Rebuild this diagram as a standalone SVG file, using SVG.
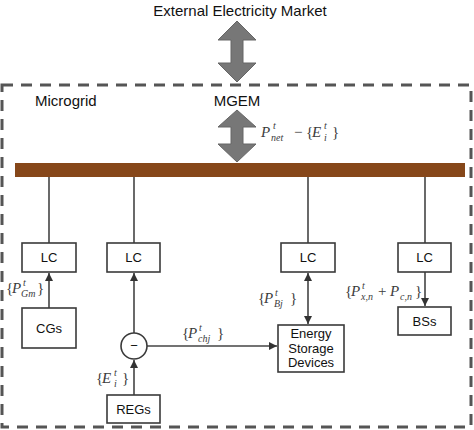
<svg xmlns="http://www.w3.org/2000/svg" width="474" height="430" viewBox="0 0 474 430">
<style>
.box{fill:#fff;stroke:#3a3a3a;stroke-width:1.6}
.ln{stroke:#444;stroke-width:1.6;fill:none}
.lbl{font-family:"Liberation Sans",Arial,sans-serif;font-size:13px;fill:#111;text-anchor:middle}
.big{font-family:"Liberation Sans",Arial,sans-serif;font-size:15px;fill:#111}
.m{font-family:"Liberation Serif","Times New Roman",serif;font-size:15px;fill:#3c3c3c}
.mi{font-style:italic}
.s{font-size:10px}
.bigarrow{fill:#777;stroke:#666;stroke-width:1}
</style>
<defs>
<marker id="ahs" viewBox="0 0 10 10" refX="10" refY="5" markerWidth="9" markerHeight="8" orient="auto-start-reverse" markerUnits="userSpaceOnUse">
<path d="M0,0 L10,5 L0,10 z" fill="#333"/>
</marker>
</defs>

<text class="big" x="240" y="16" text-anchor="middle">External Electricity Market</text>

<rect x="2" y="85" width="469" height="342" fill="none" stroke="#555" stroke-width="3" stroke-dasharray="11,8"/>
<text class="big" x="35" y="106">Microgrid</text>
<text class="big" x="237" y="106" text-anchor="middle">MGEM</text>

<g id="arrows-big">
<polygon class="bigarrow" points="237,21 256,40 243,40 243,63 256,63 237,82 218,63 231,63 231,40 218,40"/>
<polygon class="bigarrow" points="237,110 256,127 243,127 243,144 256,144 237,162 218,144 231,144 231,127 218,127"/>
</g>

<g id="bus"><rect x="15" y="163" width="450" height="14" fill="#86471a"/></g>

<g id="connectors">
<line class="ln" x1="49" y1="177" x2="49" y2="243"/>
<line class="ln" x1="134" y1="177" x2="134" y2="243"/>
<line class="ln" x1="308" y1="177" x2="308" y2="243"/>
<line class="ln" x1="425" y1="177" x2="425" y2="243"/>
<line class="ln" x1="49" y1="308" x2="49" y2="273" marker-end="url(#ahs)"/>
<line class="ln" x1="134" y1="333" x2="134" y2="273" marker-end="url(#ahs)"/>
<line class="ln" x1="134" y1="395" x2="134" y2="360" marker-end="url(#ahs)"/>
<line class="ln" x1="147" y1="346" x2="277" y2="346" marker-end="url(#ahs)"/>
<line class="ln" x1="308" y1="273" x2="308" y2="324" marker-start="url(#ahs)" marker-end="url(#ahs)"/>
<line class="ln" x1="425" y1="272" x2="425" y2="306" marker-end="url(#ahs)"/>
</g>

<g id="lc1"><rect class="box" x="22" y="243" width="54" height="29"/><text class="lbl" x="49" y="262">LC</text></g>
<g id="lc2"><rect class="box" x="107" y="243" width="53" height="29"/><text class="lbl" x="133.5" y="262">LC</text></g>
<g id="lc3"><rect class="box" x="281" y="243" width="54" height="29"/><text class="lbl" x="308" y="262">LC</text></g>
<g id="lc4"><rect class="box" x="398" y="243" width="53" height="29"/><text class="lbl" x="424.5" y="262">LC</text></g>
<g id="cgs"><rect class="box" x="22" y="308" width="54" height="40"/><text class="lbl" x="49" y="333">CGs</text></g>
<g id="regs"><rect class="box" x="107" y="395" width="53" height="28"/><text class="lbl" x="133.5" y="414">REGs</text></g>
<g id="bss"><rect class="box" x="398" y="307" width="53" height="28"/><text class="lbl" x="424.5" y="326">BSs</text></g>
<g id="esd"><rect class="box" x="278" y="325" width="66" height="47"/>
<text class="lbl" x="311" y="338">Energy</text><text class="lbl" x="311" y="353">Storage</text><text class="lbl" x="311" y="367">Devices</text></g>
<g id="sub"><circle cx="134" cy="346" r="13" fill="#fff" stroke="#3a3a3a" stroke-width="1.6"/><text class="lbl" x="134" y="350">−</text></g>

<g id="math" fill="#3c3c3c">
<text class="m mi" x="261" y="137">P</text>
<text class="m s mi" x="273" y="129">t</text>
<text class="m s mi" x="271" y="141">net</text>
<text class="m" x="294" y="137">−</text>
<text class="m" x="306" y="137">{</text>
<text class="m mi" x="312" y="137">E</text>
<text class="m s mi" x="324" y="129">t</text>
<text class="m s mi" x="324" y="141">i</text>
<text class="m" x="332" y="137">}</text>

<text class="m" x="6" y="293">{</text><text class="m mi" x="12" y="293">P</text>
<text class="m s mi" x="23" y="286">t</text><text class="m s mi" x="21" y="297">Gm</text>
<text class="m" x="37" y="293">}</text>

<text class="m" x="96" y="383">{</text><text class="m mi" x="102" y="383">E</text>
<text class="m s mi" x="114" y="376">t</text><text class="m s mi" x="114" y="387">i</text>
<text class="m" x="122" y="383">}</text>

<text class="m" x="182" y="338">{</text><text class="m mi" x="188" y="338">P</text>
<text class="m s mi" x="199" y="331">t</text><text class="m s mi" x="198" y="342">chj</text>
<text class="m" x="217" y="338">}</text>

<text class="m" x="258" y="303">{</text><text class="m mi" x="264" y="303">P</text>
<text class="m s mi" x="275" y="296">t</text><text class="m s mi" x="274" y="307">Bj</text>
<text class="m" x="290" y="303">}</text>

<text class="m" x="345" y="296">{</text><text class="m mi" x="351" y="296">P</text>
<text class="m s mi" x="362" y="289">t</text><text class="m s mi" x="361" y="300">x,n</text>
<text class="m" x="378" y="296">+</text>
<text class="m mi" x="390" y="296">P</text><text class="m s mi" x="400" y="300">c,n</text>
<text class="m" x="415" y="296">}</text>
</g>
</svg>
